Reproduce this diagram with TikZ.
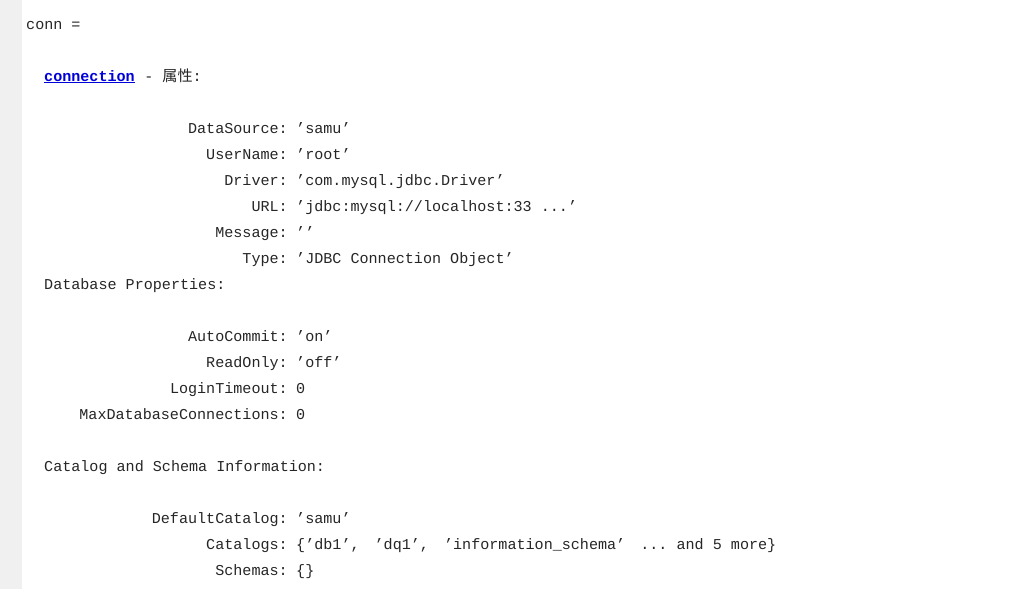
\documentclass[tikz,border=0pt]{standalone}
\usepackage{fontspec}
\setmainfont{Liberation Mono}
\newfontfamily\cjk{Noto Sans CJK SC}
\begin{document}
\begin{tikzpicture}[x=1pt,y=-1pt,
  txt/.style={inner sep=0pt,font=\fontsize{15.1}{16}\selectfont,text=black!85},
  lab/.style={txt,anchor=base east},
  val/.style={txt,anchor=base west}]
\useasboundingbox (0,0) rectangle (1034,589);
\fill[white] (0,0) rectangle (1034,589);
\fill[black!6] (0,0) rectangle (22,589);
\node[val] (conn) at (26,29) {conn =};
\node[val,text=blue!85!black,font=\fontsize{15.1}{16}\selectfont\bfseries] (cx) at (44,81) {\underline{connection}};
\node[val] (cxr) at (cx.base east) {\ - {\cjk 属性}:};
\def\row#1#2#3#4{\node[lab] (l#1) at (288,#2) {#3:}; \node[val] (v#1) at (296,#2) {#4};}
\row{a}{133}{DataSource}{'samu'}
\row{b}{159}{UserName}{'root'}
\row{c}{185}{Driver}{'com.mysql.jdbc.Driver'}
\row{d}{211}{URL}{'jdbc:mysql://localhost:33 ...'}
\row{e}{237}{Message}{'{}'}
\row{f}{263}{Type}{'JDBC Connection Object'}
\node[val] (dbp) at (44,289) {Database Properties:};
\row{g}{341}{AutoCommit}{'on'}
\row{h}{367}{ReadOnly}{'off'}
\row{i}{393}{LoginTimeout}{0}
\row{j}{419}{MaxDatabaseConnections}{0}
\node[val] (cat) at (44,471) {Catalog and Schema Information:};
\row{k}{523}{DefaultCatalog}{'samu'}
\row{l}{549}{Catalogs}{\{'db1',\ \kern6pt'dq1',\ \kern6pt'information\_schema'\ \kern6pt...\ and 5 more\}}
\row{m}{575}{Schemas}{\{\}}
\end{tikzpicture}
\end{document}
